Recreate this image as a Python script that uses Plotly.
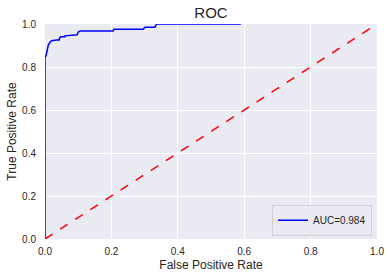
import plotly.graph_objects as go

# ROC curve vertices
fpr = [0.0, 0.0, 0.003, 0.006, 0.01, 0.015, 0.02, 0.035, 0.043, 0.043, 0.047, 0.06, 0.06,
       0.097, 0.10, 0.107, 0.205, 0.208, 0.296, 0.301, 0.331, 0.336, 0.59]
tpr = [0.0, 0.851, 0.851, 0.87, 0.902, 0.915, 0.922, 0.926, 0.926, 0.930, 0.941, 0.941, 0.945,
       0.950, 0.963, 0.968, 0.968, 0.976, 0.976, 0.985, 0.985, 1.0, 1.0]
diag_x = [0.0, 1.0]
diag_y = [0.0, 1.0]
auc_label = "AUC=0.984"
tick_vals = [0.0, 0.2, 0.4, 0.6, 0.8, 1.0]
tick_text = ["0.0", "0.2", "0.4", "0.6", "0.8", "1.0"]

FONT = "Liberation Sans, Arial, DejaVu Sans, sans-serif"

fig = go.Figure()
fig.add_trace(go.Scatter(x=fpr, y=tpr, mode="lines", name=auc_label,
                         line=dict(color="#0000ff", width=1.5)))
fig.add_trace(go.Scatter(x=diag_x, y=diag_y, mode="lines", showlegend=False,
                         line=dict(color="#ff0000", width=1.5, dash="dash")))

axis_common = dict(range=[0, 1], tickvals=tick_vals, ticktext=tick_text, automargin=False,
                   showgrid=True, gridcolor="white", gridwidth=1, zeroline=False,
                   showline=False, ticks="", tickfont=dict(size=10, color="#262626", family=FONT))

fig.update_layout(
    width=391, height=278,
    margin=dict(l=45, r=14, t=24, b=39),
    paper_bgcolor="white", plot_bgcolor="#EAEAF2",
    font=dict(family=FONT, color="#262626"),
    title=dict(text="ROC", x=0.5, xref="paper", xanchor="center", y=0.955, yref="container",
               yanchor="middle", font=dict(size=15, color="#262626", family=FONT)),
    xaxis=dict(**axis_common, ticklabelstandoff=5,
               title=dict(text="False Positive Rate", font=dict(size=12), standoff=4)),
    yaxis=dict(**axis_common, ticklabelstandoff=8,
               title=dict(text="True Positive Rate", font=dict(size=12), standoff=2)),
    legend=dict(x=0.985, y=0.015, xanchor="right", yanchor="bottom",
                bgcolor="#EAEAF2", bordercolor="#d0d0d8", borderwidth=1,
                itemwidth=30, tracegroupgap=0,
                font=dict(size=10, color="#262626", family=FONT)),
    showlegend=True,
)

fig.write_html("out.html")
